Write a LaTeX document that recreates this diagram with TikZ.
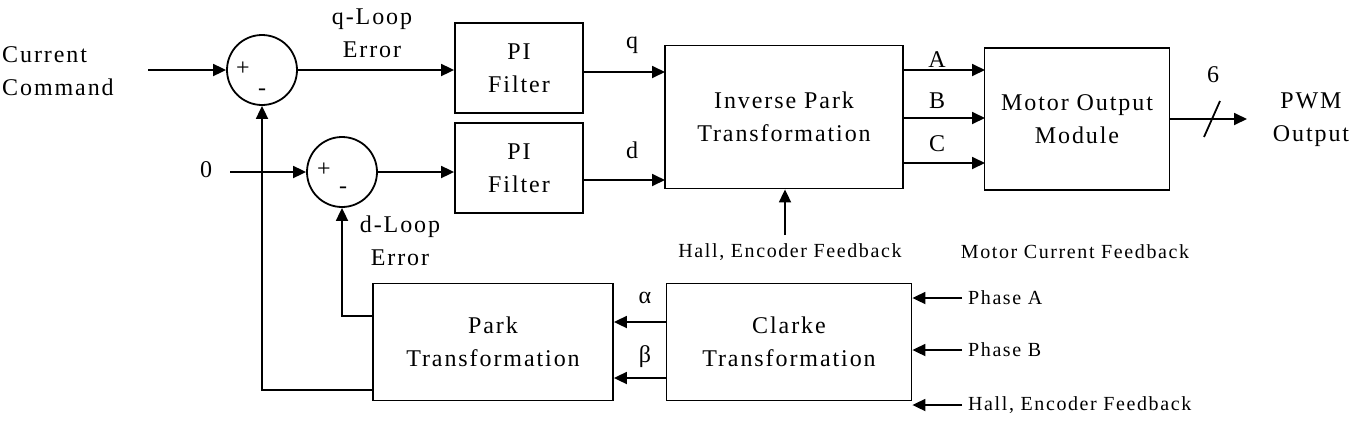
\documentclass[tikz,border=0pt]{standalone}
\usepackage{fontspec}
\setmainfont{Liberation Serif}[LetterSpace=8]
\usetikzlibrary{arrows.meta}
\begin{document}
\begin{tikzpicture}[x=1pt,y=-1pt,
  blk/.style={draw,line width=1.8pt,align=center,font=\fontsize{24}{33}\selectfont,inner sep=0pt},
  sum/.style={draw,circle,line width=1.8pt,minimum size=70pt,inner sep=0pt},
  arr/.style={line width=1.8pt,-{Triangle[length=13pt,width=12pt]}},
  ln/.style={line width=1.8pt},
  lab/.style={font=\fontsize{24}{33}\selectfont,align=center,inner sep=0pt},
  sm/.style={font=\fontsize{20}{24}\selectfont,inner sep=0pt}]
\useasboundingbox (0,0) rectangle (1361,429);
\node[blk,minimum width=128pt,minimum height=90pt] (pi1) at (519,68) {PI\\Filter};
\node[blk,minimum width=128pt,minimum height=90pt] (pi2) at (519,168) {PI\\Filter};
\node[blk,minimum width=238pt,minimum height=143pt] (ip) at (784,117) {Inverse Park\\Transformation};
\node[blk,minimum width=185pt,minimum height=142pt] (mo) at (1077,119) {Motor Output\\Module};
\node[blk,minimum width=240pt,minimum height=117pt] (pk) at (493,342) {Park\\Transformation};
\node[blk,minimum width=245pt,minimum height=117pt] (ck) at (789,342) {Clarke\\Transformation};
\node[sum] (s1) at (262,70) {};
\node[sum] (s2) at (342,172) {};
\node[lab] at (243,69) {+};
\node[lab] at (262,92) {-};
\node[lab] at (324,170) {+};
\node[lab] at (343,190) {-};
\node[lab,align=left,anchor=west] (cc) at (2,71) {Current\\Command};
\coordinate (ccend) at (148,70);
\draw[arr] (ccend) -- (s1.west);
\node[lab] (zero) at (206,170) {0};
\coordinate (zend) at (230,172);
\draw[arr] (zend) -- (s2.west);
\draw[arr] (s1.east) -- (pi1.west |- s1.east);
\node[lab] at (372,33) {q-Loop\\Error};
\draw[arr] (s2.east) -- (pi2.west |- s2.east);
\draw[arr] (583,72) -- (665,72);
\draw[arr] (583,180) -- (665,180);
\node[lab] at (632,45) {q};
\node[lab] at (632,150) {d};
\foreach \y/\t/\ly in {70/A/60,118/B/101,163/C/144}{
  \draw[arr] (903,\y) -- (985,\y);
  \node[lab] at (937,\ly) {\t};}
\coordinate (pwm) at (1247,119);
\draw[arr] (mo.east) -- (pwm);
\draw[ln] (1204,137) -- (1220,101);
\node[lab] at (1213,75) {6};
\node[lab] at (1311,120) {PWM\\Output};
\coordinate (hall) at (785,235);
\draw[arr] (hall) -- (ip.south -| hall);
\node[sm] at (790,252) {Hall, Encoder Feedback};
\node[sm] at (1075,252) {Motor Current Feedback};
\draw[arr] (ck.west |- 0,322) -- (pk.east |- 0,322);
\draw[arr] (ck.west |- 0,378) -- (pk.east |- 0,378);
\node[lab] at (645,298) {α};
\node[lab] at (645,357) {β};
\foreach \y/\t in {298/Phase A,350/Phase B,405/{Hall, Encoder Feedback}}{
  \coordinate (p\y) at (962,\y);
  \draw[arr] (p\y) -- (ck.east |- p\y);
  \node[sm,anchor=west] at (968,\y) {\t};}
\draw[arr] (pk.west |- 0,316) -- (342,316) -- (s2.south);
\node[lab] at (400,241) {d-Loop\\Error};
\draw[arr] (pk.west |- 0,390) -- (262,390) -- (s1.south);
\end{tikzpicture}
\end{document}
